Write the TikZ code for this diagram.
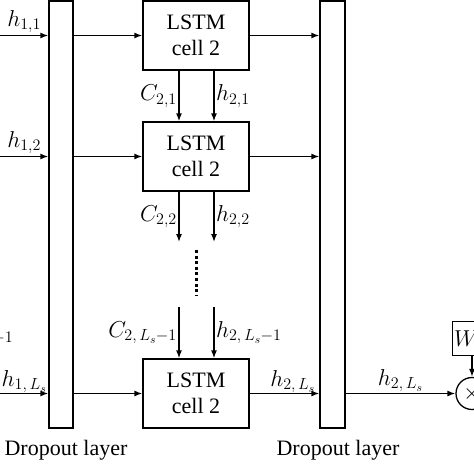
\documentclass[tikz,border=0pt]{standalone}
\usepackage{fix-cm}
\usepackage{amsmath}
\usepackage{fontspec}
\setmainfont{Liberation Serif}
\newfontfamily\timesfont{Liberation Serif}
\usetikzlibrary{arrows.meta}

\begin{document}
\begin{tikzpicture}[x=1pt,y=-1pt,line width=1.3pt,
    >={Latex[length=8pt,width=6pt]},
    font=\timesfont\fontsize{22}{26}\selectfont,
    cellbox/.style={draw, minimum width=106pt, minimum height=69pt, inner sep=0pt, align=center},
    dropbar/.style={draw, minimum width=24pt, minimum height=427pt, inner sep=0pt},
    lbl/.style={inner sep=1.5pt, font=\fontsize{23}{26}\selectfont}]

\useasboundingbox (0,0) rectangle (474,474);

\def\celltext{LSTM\\cell 2}

% dropout layers
\node[dropbar] (drop1) at (61,214.5) {};
\node[dropbar, minimum width=25pt] (drop2) at (332.5,214.5) {};
\node (droplbl1) at (66,450) {Dropout layer};
\node (droplbl2) at (338,450) {Dropout layer};

% lstm cells
\node[cellbox] (cell1) at (196,35.5) {\celltext};
\node[cellbox] (cell2) at (196,156.5) {\celltext};
\node[cellbox] (cell3) at (196,393.5) {\celltext};

% inputs from layer 1
\coordinate (in1) at (0,35.5);
\coordinate (in2) at (0,156.5);
\coordinate (in3) at (0,393.5);
\draw[->] (in1) -- (in1 -| drop1.west) node[midway, above, lbl, inner sep=2pt] {$h_{1,1}$};
\draw[->] (in2) -- (in2 -| drop1.west) node[midway, above, lbl, inner sep=2pt] {$h_{1,2}$};
\draw[->] (in3) -- (in3 -| drop1.west) node[midway, above, lbl, inner sep=0pt] {$h_{1,\,L_s}$};
\node[anchor=east, lbl, inner sep=0pt] (hprev) at (14,334) {$h_{1,\,L_s-1}$};

% dropout -> cells -> dropout
\draw[->] (drop1.east |- cell1) -- (cell1.west);
\draw[->] (drop1.east |- cell2) -- (cell2.west);
\draw[->] (drop1.east |- cell3) -- (cell3.west);
\draw[->] (cell1.east) -- (cell1.east -| drop2.west);
\draw[->] (cell2.east) -- (cell2.east -| drop2.west);
\draw[->] (cell3.east) -- (cell3.east -| drop2.west)
    node[pos=0.62, above, lbl, inner sep=0pt] {$h_{2,\,L_s}$};

% states between cells
\draw[->] ([xshift=-17pt]cell1.south) -- ([xshift=-17pt]cell2.north) node[midway, left, lbl] {$C_{2,1}$};
\draw[->] ([xshift=18pt]cell1.south) -- ([xshift=18pt]cell2.north) node[midway, right, lbl] {$h_{2,1}$};

\coordinate (cgap) at (179,242);
\coordinate (hgap) at (214,242);
\draw[->] (cell2.south -| cgap) -- (cgap) node[midway, left, lbl] {$C_{2,2}$};
\draw[->] (cell2.south -| hgap) -- (hgap) node[midway, right, lbl] {$h_{2,2}$};

\draw[line width=3pt, dash pattern=on 3pt off 2.6pt] (196,250) -- (196,296);

\coordinate (cres) at (179,307);
\coordinate (hres) at (214,307);
\draw[->] (cres) -- (cres |- cell3.north) node[midway, left, lbl] {$C_{2,\,L_s-1}$};
\draw[->] (hres) -- (hres |- cell3.north) node[midway, right, lbl] {$h_{2,\,L_s-1}$};

% output weighting
\node[circle, draw, minimum size=32pt, inner sep=0pt] (mult) at (472,393.5) {$\times$};
\node[draw, anchor=west, minimum height=34pt, inner xsep=9pt, lbl] (wbox) at (452,338.5) {$W$};
\draw[->] (drop2.east |- cell3) -- (mult.west) node[midway, above, lbl, inner sep=1pt] {$h_{2,\,L_s}$};
\draw[->] (wbox.south -| mult) -- (mult.north);

\end{tikzpicture}
\end{document}
